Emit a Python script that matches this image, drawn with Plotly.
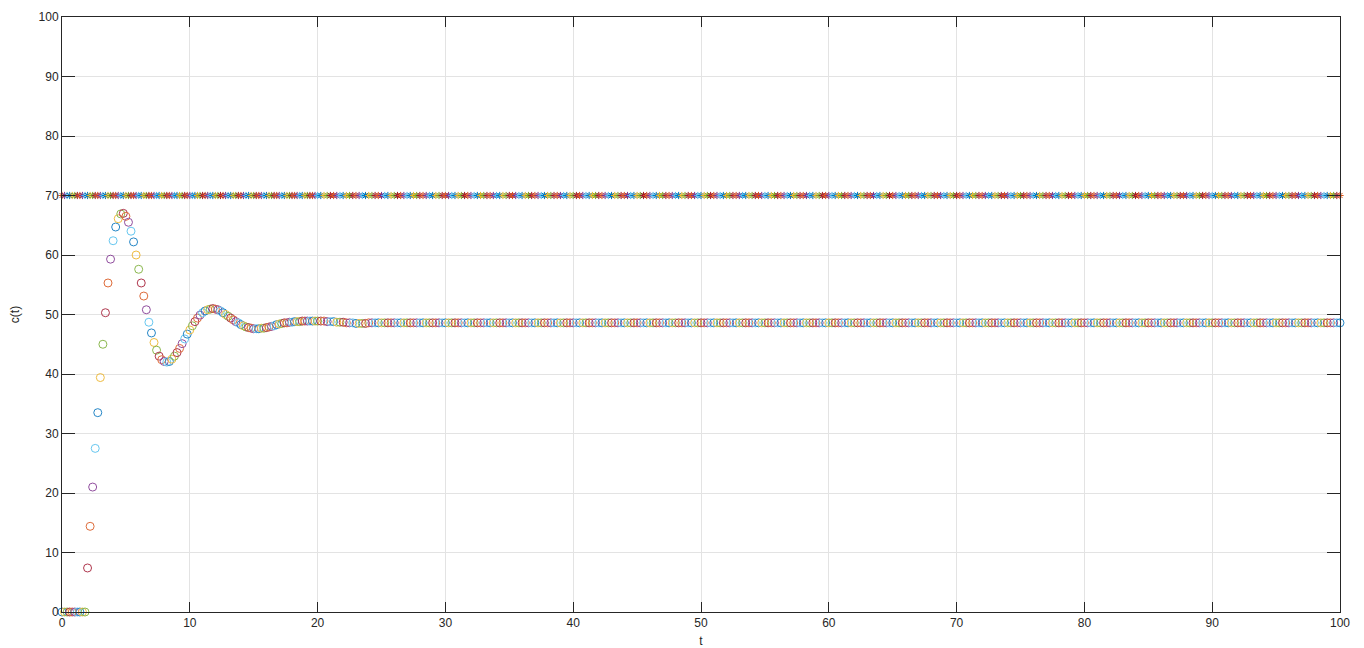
import numpy as np
import plotly.graph_objects as go

# Transient samples, t = 0 .. 20 step 0.2
t_transient = [round(0.2 * i, 1) for i in range(101)]
c_transient = [
    0, 0, 0, 0, 0, 0, 0, 0, 0, 0,            # 0.0 - 1.8
    7.4, 14.4, 21.0, 27.5, 33.5, 39.4, 45.0, 50.3, 55.3, 59.3,   # 2.0 - 3.8
    62.4, 64.7, 66.1, 66.9, 67.0, 66.5, 65.5, 64.0, 62.2, 60.0,  # 4.0 - 5.8
    57.6, 55.3, 53.1, 50.8, 48.7, 46.9, 45.3, 44.0, 43.0, 42.4,  # 6.0 - 7.8
    42.1, 42.0, 42.1, 42.5, 43.0, 43.6, 44.3, 45.1, 45.9, 46.7,  # 8.0 - 9.8
    47.4, 48.1, 48.8, 49.4, 49.9, 50.3, 50.6, 50.8, 50.9, 51.0,  # 10.0 - 11.8
    50.9, 50.8, 50.6, 50.3, 50.0, 49.7, 49.4, 49.1, 48.8, 48.6,  # 12.0 - 13.8
    48.3, 48.1, 47.9, 47.8, 47.7, 47.6, 47.6, 47.6, 47.7, 47.7,  # 14.0 - 15.8
    47.8, 47.9, 48.0, 48.1, 48.3, 48.4, 48.5, 48.6, 48.6, 48.7,  # 16.0 - 17.8
    48.7, 48.8, 48.8, 48.8, 48.9, 48.9, 48.9, 48.9, 48.9, 48.9,  # 18.0 - 19.8
    48.9,                                                        # 20.0
]

# Later samples, t = 20.25 .. 100 step 0.25
t_late = [20.25 + 0.25 * i for i in range(320)]
c_late_start = [48.9, 48.9, 48.8, 48.8, 48.8, 48.7, 48.7, 48.7, 48.6, 48.6,
                48.6, 48.5, 48.5, 48.5, 48.5, 48.6, 48.6, 48.6]
c_steady = 48.6
c_late = c_late_start + [c_steady] * (len(t_late) - len(c_late_start))

setpoint = 70

t_all = t_transient + t_late
c_all = c_transient + c_late
r_all = [setpoint] * len(t_all)

matlab_colors = ["#0072BD", "#D95319", "#EDB120", "#7E2F8E",
                 "#77AC30", "#4DBEEE", "#A2142F"]

circ_colors = [matlab_colors[(2 * i) % 7] for i in range(len(t_all))]
star_colors = [matlab_colors[(2 * i + 1) % 7] for i in range(len(t_all))]

x_ticks = [0, 10, 20, 30, 40, 50, 60, 70, 80, 90, 100]
y_ticks = [0, 10, 20, 30, 40, 50, 60, 70, 80, 90, 100]

fig = go.Figure()
fig.add_trace(go.Scatter(
    x=t_all, y=c_all, mode="markers",
    marker=dict(symbol="circle-open", size=8, color=circ_colors,
                line=dict(width=1)),
    opacity=0.85,
    showlegend=False, cliponaxis=False,
))
fig.add_trace(go.Scatter(
    x=t_all, y=r_all, mode="markers",
    marker=dict(symbol="asterisk-open", size=6, color=star_colors,
                line=dict(width=1, color=star_colors)),
    showlegend=False, cliponaxis=False,
))

font_family = "Liberation Sans, Arial, sans-serif"
axis_common = dict(
    showline=True, linecolor="#262626", linewidth=1, mirror="ticks",
    ticks="inside", tickcolor="#262626", showgrid=True,
    gridcolor="#e3e3e3", gridwidth=1, zeroline=False, automargin=False,
    tickfont=dict(family=font_family, size=12, color="#262626"),
)

# The page body adds an 8px offset, so the figure is sized to compensate.
fig.update_layout(
    width=1356, height=640,
    margin=dict(l=54, r=24, t=9, b=36),
    paper_bgcolor="white", plot_bgcolor="white",
    xaxis=dict(range=[0, 100], tickvals=x_ticks, ticklen=10,
               title=dict(text="t", standoff=9,
                          font=dict(family=font_family, size=12, color="#262626")),
               **axis_common),
    yaxis=dict(range=[0, 100], tickvals=y_ticks, ticklen=13,
               title=dict(text="c(t)", standoff=22,
                          font=dict(family=font_family, size=12, color="#262626")),
               **axis_common),
)

fig.write_html("out.html")
